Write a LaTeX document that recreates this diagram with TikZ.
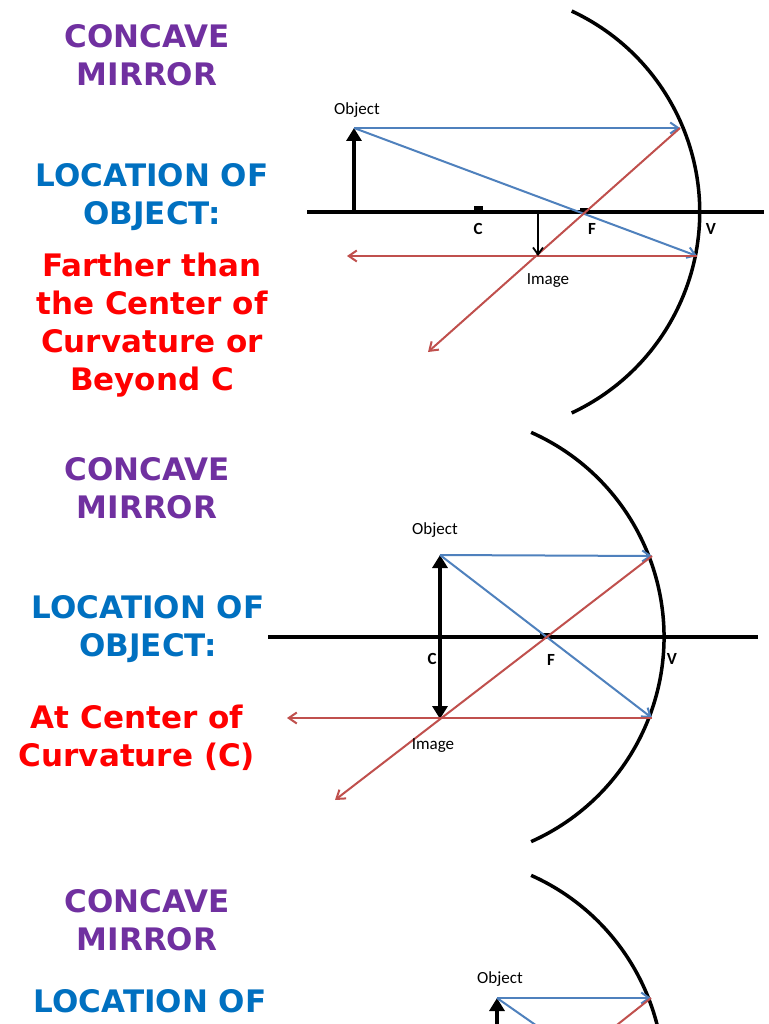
\documentclass[tikz,border=0pt]{standalone}
\usepackage{fontspec}
\setmainfont{DejaVu Sans}
\newfontfamily\lbl{Carlito}
\usetikzlibrary{arrows.meta}
\definecolor{purp}{HTML}{7030A0}
\definecolor{blu}{HTML}{0070C0}
\definecolor{rd}{HTML}{FF0000}
\definecolor{ray}{HTML}{4F81BD}
\definecolor{rray}{HTML}{C0504D}
\tikzset{
 big/.style={font=\fontsize{31}{38}\selectfont\bfseries, align=center},
 small/.style={font=\lbl\fontsize{17}{17}\selectfont},
 sbold/.style={font=\lbl\bfseries\fontsize{17}{17}\selectfont},
 bray/.style={draw=ray, line width=2pt, -{Straight Barb[length=8pt,width=11pt]}},
 rrayl/.style={draw=rray, line width=2pt, -{Straight Barb[length=8pt,width=11pt]}},
 rline/.style={draw=rray, line width=2pt},
 mirror/.style={line width=3.5pt},
 axis/.style={line width=3.5pt},
 obj/.style={line width=4pt, -{Triangle[length=13pt,width=15pt]}},
}
\begin{document}
\begin{tikzpicture}[x=1pt,y=-1pt]
\path[fill=white] (0,0) rectangle (768,1024);
\clip (0,0) rectangle (768,1024);
% ---------- Panel 1 ----------
\node[big,text=purp] (t1) at (147,55) {CONCAVE\\MIRROR};
\node[big,text=blu] (l1) at (152,197) {LOCATION OF\\OBJECT:};
\node[big,text=rd] (r1) at (152,325) {Farther than\\the Center of\\Curvature or\\Beyond C};
\draw[mirror] (478,212) ++(-65:221.7) arc[start angle=-65,end angle=65,radius=221.7];
\coordinate (a1L) at (307,212); \coordinate (a1R) at (764,212);
\draw[axis] (a1L) -- (a1R);
\coordinate (o1b) at (354,212); \coordinate (o1t) at (354,128);
\draw[obj] (o1b) -- (o1t);
\node[small,anchor=south] (ol1) at (357,121) {Object};
\fill (474,206) rectangle (483,214);
\node[sbold] (c1) at (478,229) {C};
\fill (580,208) rectangle (590,212);
\node[sbold] (f1) at (592,229) {F};
\node[sbold] (v1) at (711,229) {V};
\coordinate (m1a) at (680,128); \coordinate (m1b) at (697,256);
\coordinate (e1a) at (428,352); \coordinate (e1b) at (347,256);
\path[bray] (o1t) -- (m1a);
\path[bray] (o1t) -- (m1b);
\path[rrayl] (m1a) -- (e1a);
\path[rrayl] (m1b) -- (e1b);
\coordinate (i1t) at (538,214); \coordinate (i1b) at (538,256);
\draw[line width=1.8pt,-{Straight Barb[length=7pt,width=10pt]}] (i1t) -- (i1b);
\node[small] (il1) at (548,281) {Image};
% ---------- Panel 2 ----------
\node[big,text=purp] (t2) at (147,488) {CONCAVE\\MIRROR};
\node[big,text=blu] (l2) at (148,629) {LOCATION OF\\OBJECT:};
\node[big,text=rd] (r2) at (137,738) {At Center of\\Curvature (C)};
\draw[mirror] (440,637) ++(-66:224) arc[start angle=-66,end angle=66,radius=224];
\coordinate (a2L) at (268,637); \coordinate (a2R) at (758,637);
\draw[axis] (a2L) -- (a2R);
\coordinate (o2t) at (440,555); \coordinate (o2b) at (440,719);
\coordinate (o2m) at (440,637);
\draw[obj] (o2m) -- (o2t);
\draw[obj] (o2m) -- (o2b);
\node[small,anchor=south] (ol2) at (435,541) {Object};
\node[sbold] (c2) at (432,659) {C};
\fill (540,633) rectangle (550,637);
\node[sbold] (f2) at (551,660) {F};
\node[sbold] (v2) at (672,659) {V};
\coordinate (m2a) at (652,556); \coordinate (m2b) at (652,718);
\coordinate (e2a) at (335,800); \coordinate (e2b) at (287,718);
\path[bray] (o2t) -- (m2a);
\path[bray] (o2t) -- (m2b);
\path[rrayl] (m2a) -- (e2a);
\path[rrayl] (m2b) -- (e2b);
\node[small] (il2) at (433,745) {Image};
% ---------- Panel 3 ----------
\node[big,text=purp] (t3) at (147,920) {CONCAVE\\MIRROR};
\node[big,text=blu,anchor=north] (l3) at (150,986) {LOCATION OF};
\draw[mirror] (440,1080) ++(-66:224) arc[start angle=-66,end angle=0,radius=224];
\coordinate (o3b) at (497,1060); \coordinate (o3t) at (497,998);
\draw[obj] (o3b) -- (o3t);
\node[small,anchor=south] (ol3) at (500,990) {Object};
\coordinate (m3a) at (651,998);
\coordinate (e3a) at (560,1070); \coordinate (e3b) at (600,1070);
\path[bray] (o3t) -- (m3a);
\path[rline] (m3a) -- (e3a);
\path[draw=ray,line width=2pt] (o3t) -- (e3b);
\end{tikzpicture}
\end{document}
